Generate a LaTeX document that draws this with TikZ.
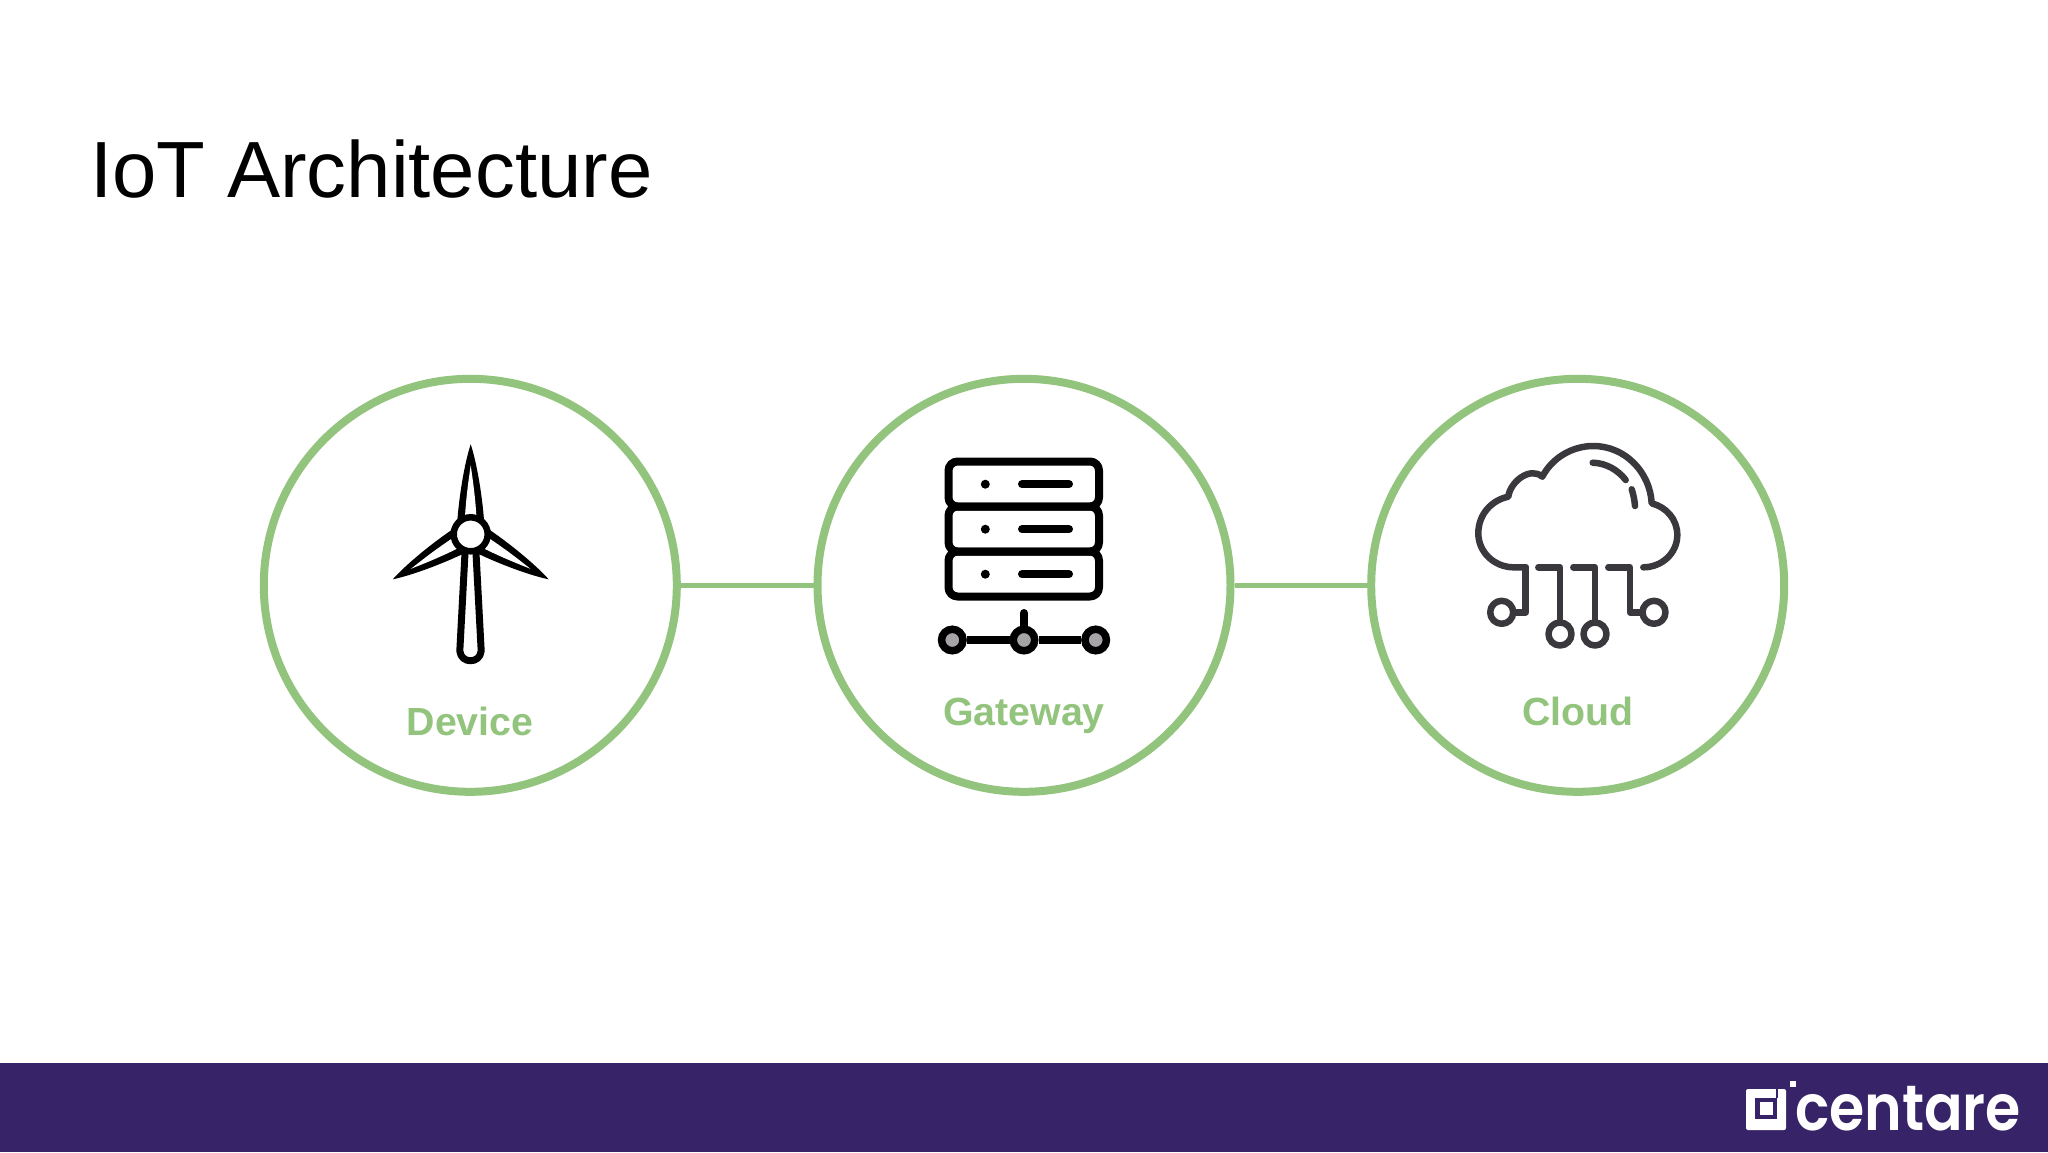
\documentclass[tikz,border=0pt]{standalone}
\usepackage{fontspec}
\setmainfont{Liberation Sans}
\newfontfamily\logofont[FakeStretch=0.89]{Poppins SemiBold}
\usepackage{tikz}
\definecolor{ringgreen}{HTML}{93C47D}
\definecolor{barpurple}{HTML}{372368}
\definecolor{cloudgrey}{HTML}{3A383C}
\definecolor{portgrey}{HTML}{A6A4A6}
\tikzset{
  ring/.style={circle, draw=ringgreen, line width=8pt, fill=white, minimum size=413pt, inner sep=0pt},
  link/.style={draw=ringgreen, line width=5.5pt},
  ringlabel/.style={anchor=base, text=ringgreen, font=\fontsize{39.3}{39}\selectfont\bfseries},
  icon/.style={line width=8pt, line join=round, line cap=round},
  port/.style={circle, draw=black, line width=7.5pt, fill=portgrey, minimum size=21.5pt, inner sep=0pt},
  pin/.style={circle, draw=cloudgrey, line width=6.5pt, fill=white, minimum size=23pt, inner sep=0pt}
}

\begin{document}
\begin{tikzpicture}[x=1pt, y=-1pt]
      \useasboundingbox (0,0) rectangle (2048,1152);
      \fill [white] (0,0) rectangle (2048,1152);

      \node [anchor=base west, font=\fontsize{79.7}{80}\selectfont] (title) at (86.5,197) {IoT Architecture};

      \node [ring] (device) at (470.3,585.3) {};
      \node [ring] (gateway) at (1024,585.3) {};
      \node [ring] (cloud) at (1577.7,585.3) {};

      \draw [link] (device) -- (gateway);
      \draw [link] (gateway) -- (cloud);

      \node [ringlabel] (devicelabel) at (470,735) {Device};
      \node [ringlabel] (gatewaylabel) at (1024,725.5) {Gateway};
      \node [ringlabel] (cloudlabel) at (1578,725.5) {Cloud};

      \coordinate (hub) at (470.7,534.3);
      \foreach \a in {0, 120, 240}
      {
        \begin{scope}[rotate around={\a:(hub)}, shift={(hub)}]
          \fill (-13.5,-12) .. controls (-11,-45) and (-5,-75) .. (0,-90)
            .. controls (5,-75) and (11,-45) .. (13.5,-12) -- cycle;
          \fill [white] (-6,-12) .. controls (-5,-35) and (-2,-55) .. (0,-69)
            .. controls (2,-55) and (5,-35) .. (6,-12) -- cycle;
        \end{scope}
      }
      \draw [icon, line width=7pt]
        (465,553) -- (459.8,651) .. controls (461,664) and (480,664) .. (481.2,651) -- (476,553);
      \node [circle, draw=black, line width=6.5pt, fill=white, minimum size=34pt, inner sep=0pt] (hubring) at (hub) {};

      \foreach \y in {461.5, 506.5, 551.5}
      {
        \draw [icon, rounded corners=9pt] (948.5,\y) rectangle (1099,\y+45);
        \fill (985.3,\y+22.7) circle (4.5pt);
        \draw [icon] (1022,\y+22.7) -- (1069,\y+22.7);
      }
      \node [port] (portl) at (952.3,640) {};
      \node [port] (portc) at (1024,640) {};
      \node [port] (portr) at (1095.7,640) {};
      \coordinate (stub) at (1024,613);
      \draw [icon] (stub) -- (portc);
      \draw [icon, line cap=butt] (portl) -- (portc);
      \draw [icon, line cap=butt] (portc) -- (portr);

      \begin{scope}[draw=cloudgrey, line width=6.5pt, line cap=round, line join=round]
        \draw (1525.7,567.3) -- (1513.3,567.3)
          .. controls (1494,567) and (1478.3,552) .. (1478.3,533.3)
          .. controls (1478.3,514) and (1492,500) .. (1508.3,496.7)
          .. controls (1510,482) and (1530,466) .. (1542.3,476.7)
          .. controls (1552,458) and (1572,446) .. (1593.3,446)
          .. controls (1625,446) and (1650,472) .. (1651.7,503.3)
          .. controls (1666,507) and (1677.3,519) .. (1677.3,535)
          .. controls (1677.3,553) and (1662,567.3) .. (1643.3,567.3);
        \draw (1592.7,462.7) .. controls (1606,463) and (1618,470) .. (1625.7,480);
        \draw (1631.7,489.3) .. controls (1633.5,495) and (1634.5,500) .. (1635,506);

        \node [pin] (pina) at (1501.7,612.3) {};
        \node [pin] (pinb) at (1560,634) {};
        \node [pin] (pinc) at (1595,634) {};
        \node [pin] (pind) at (1654,612.3) {};

        \draw (1525.7,567.3) -- (1525.7,612.3) -- (pina);
        \draw (1538.3,567.3) -- (1560,567.3) -- (pinb);
        \draw (1573.3,567.3) -- (1595,567.3) -- (pinc);
        \draw (1608.3,567.3) -- (1630,567.3) -- (1630,612.3) -- (pind);
      \end{scope}

      \fill [barpurple] (0,1063) rectangle (2048,1152);
      \fill [white, rounded corners=2pt] (1746,1089) rectangle (1786,1130);
      \fill [barpurple] (1755,1098) rectangle (1777,1119);
      \fill [white] (1759.5,1102) rectangle (1772.5,1115);
      \fill [barpurple] (1776,1089) rectangle (1778,1098);
      \node [anchor=base west, text=white, font=\logofont\fontsize{64}{64}\selectfont] (logo) at (1791.5,1130) {centare};
      \fill [white] (1789.5,1080.5) rectangle (1796,1087);
    \end{tikzpicture}
\end{document}
